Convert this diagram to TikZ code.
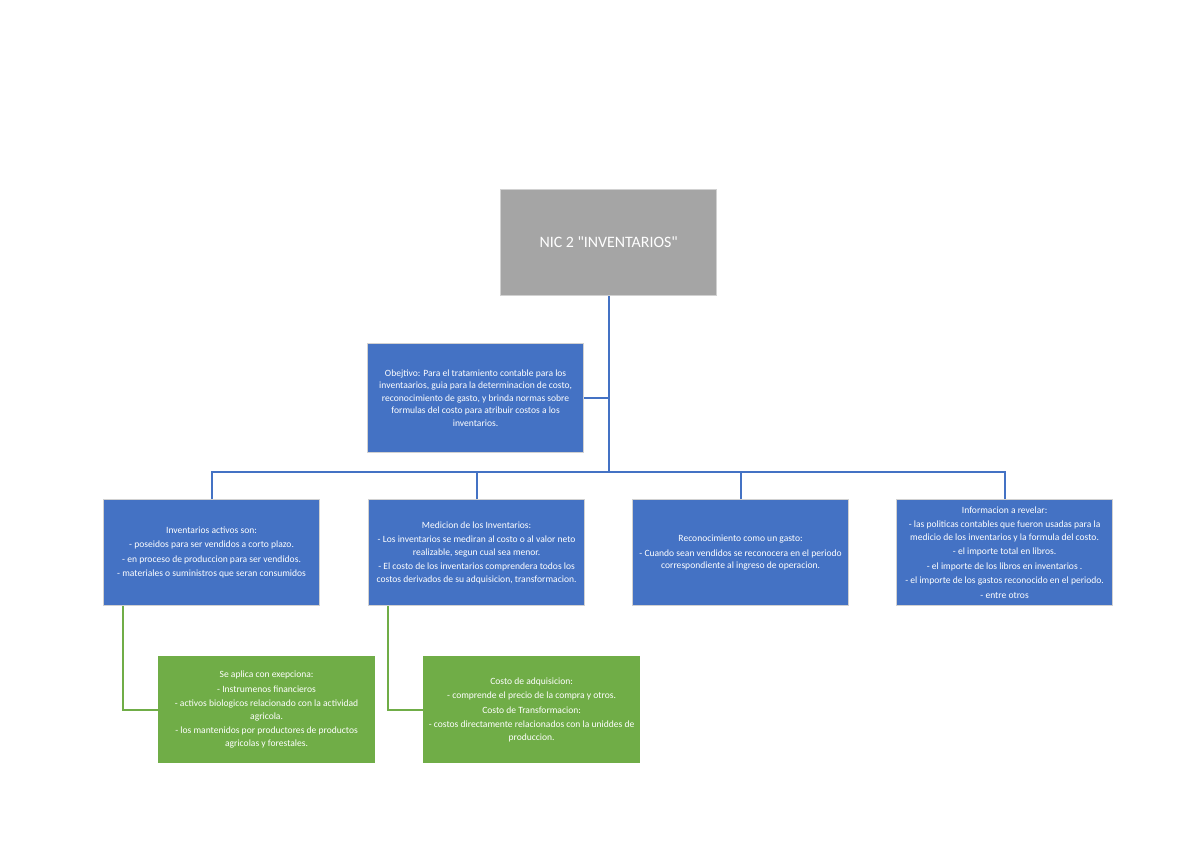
\documentclass[tikz,border=0pt]{standalone}
\usepackage{fontspec}
\setmainfont{Carlito}[Ligatures=TeXOff]
\usepackage{tikz}
\usetikzlibrary{arrows.meta,calc,positioning}
\definecolor{nicgray}{HTML}{A5A5A5}
\definecolor{nicblue}{HTML}{4472C4}
\definecolor{nicgreen}{HTML}{70AD47}
\tikzset{
  card/.style={draw=white!82!black, line width=0.8pt, anchor=north west, text=white,
    minimum width=5.4cm, minimum height=2.65cm, inner sep=1pt,
    align=center, font=\fontsize{6.8}{8.9}\selectfont},
  bluecard/.style={card, fill=nicblue},
  greencard/.style={card, fill=nicgreen, draw=nicgreen},
  link/.style={draw=nicblue, line width=1.3pt},
  glink/.style={draw=nicgreen, line width=1.3pt},
}
\newcommand{\gap}{\\[1.4pt]}
\begin{document}
\begin{tikzpicture}[x=0.025cm, y=-0.025cm]
\useasboundingbox[fill=white] (0,0) rectangle (1200,849);

% --- title ---
\node[card, fill=nicgray, font=\fontsize{11.3}{13}\selectfont] (top) at (500,189)
{NIC 2 "INVENTARIOS"};

% --- objective ---
\node[bluecard, minimum height=2.72cm] (obj) at (367,343)
{Obejtivo: Para el tratamiento contable para los\\
 inventaarios, guia para la determinacion de costo,\\
 reconocimiento de gasto, y brinda normas sobre\\
 formulas del costo para atribuir costos a los\\
 inventarios.};

% --- second row ---
\node[bluecard] (inv) at (103,499)
{Inventarios activos son:\gap
 - poseidos para ser vendidos a corto plazo.\gap
 - en proceso de produccion para ser vendidos.\gap
 - materiales o suministros que seran consumidos};
\node[bluecard] (med) at (368,499)
{Medicion de los Inventarios:\gap
 - Los inventarios se mediran al costo o al valor neto\\
 realizable, segun cual sea menor.\gap
 - El costo de los inventarios comprendera todos los\\
 costos derivados de su adquisicion, transformacion.};
\node[bluecard] (rec) at (632,499)
{Reconocimiento como un gasto:\gap
 - Cuando sean vendidos se reconocera en el periodo\\
 correspondiente al ingreso de operacion.};
\node[bluecard] (info) at (896,499)
{Informacion a revelar:\gap
 - las politicas contables que fueron usadas para la\\
 medicio de los inventarios y la formula del costo.\gap
 - el importe total en libros.\gap
 - el importe de los libros en inventarios .\gap
 - el importe de los gastos reconocido en el periodo.\gap
 - entre otros};

% --- third row ---
\node[greencard] (exc) at (158,656)
{Se aplica con exepciona:\gap
 - Instrumenos financieros\gap
 - activos biologicos relacionado con la actividad\\
 agricola.\gap
 - los mantenidos por productores de productos\\
 agricolas y forestales.};
\node[greencard] (cost) at (423,656)
{Costo de adquisicion:\gap
 - comprende el precio de la compra y otros.\gap
 Costo de Transformacion:\gap
 - costos directamente relacionados con la uniddes de\\
 produccion.};

% --- connectors ---
\coordinate (bus) at (top.south |- 0,472);
\draw[link] (top.south) -- (bus);
\draw[link] (obj.east) -- (obj.east -| top.south);
\draw[link] (inv.north) |- (bus) -| (info.north);
\draw[link] (med.north) -- (med.north |- bus);
\draw[link] (rec.north) -- (rec.north |- bus);

\draw[glink] ([xshift=0.5cm]inv.south west) |- (exc.west);
\draw[glink] ([xshift=0.5cm]med.south west) |- (cost.west);

\end{tikzpicture}
\end{document}
